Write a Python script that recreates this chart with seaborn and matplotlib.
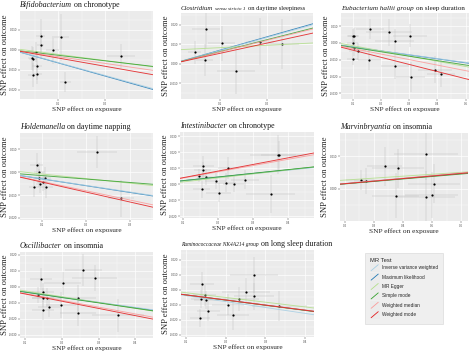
import matplotlib
matplotlib.use("Agg")
import matplotlib.pyplot as plt
import seaborn as sns
import pandas as pd
from matplotlib.offsetbox import TextArea, HPacker, AnchoredOffsetbox
from matplotlib.legend_handler import HandlerBase
from matplotlib.patches import Rectangle
from matplotlib.lines import Line2D
from matplotlib.ticker import AutoMinorLocator, FormatStrFormatter

methods = ["Inverse variance weighted", "Maximum likelihood", "MR Egger",
           "Simple mode", "Weighted median", "Weighted mode"]
colors = ["#A6CEE3", "#1F78B4", "#B2DF8A", "#33A02C", "#FB9A99", "#E31A1C"]
draw_order = [1, 0, 2, 3, 4, 5]

# Bifidobacterium on chronotype
bifido_bx = [0.062, 0.106, 0.062, 0.088, 0.052, 0.044, 0.046, 0.054, 0.234, 0.045, 0.055, 0.115]
bifido_by = [0.0067, 0.0062, 0.0022, 0.0, -0.0012, -0.0042, -0.0047, -0.0080, -0.0033, -0.0125, -0.0123, -0.0163]
bifido_sx = [0.010, 0.016, 0.008, 0.014, 0.007, 0.009, 0.008, 0.010, 0.030, 0.009, 0.010, 0.012]
bifido_sy = [0.009, 0.012, 0.006, 0.007, 0.005, 0.006, 0.006, 0.007, 0.006, 0.006, 0.005, 0.005]
bifido_slope = [-0.0645, -0.0660, -0.0310, -0.0276, -0.0342, -0.0414]
bifido_egger_int = 0.0008

# Clostridium sensu stricto 1 on daytime sleepiness
clost_bx = [0.047, 0.071, 0.068, 0.104, 0.135, 0.185, 0.232]
clost_by = [0.0058, 0.0178, 0.0019, 0.0104, -0.0036, 0.0113, 0.0101]
clost_sx = [0.014, 0.030, 0.018, 0.028, 0.040, 0.030, 0.035]
clost_sy = [0.006, 0.010, 0.008, 0.009, 0.012, 0.012, 0.013]
clost_slope = [0.0673, 0.0690, 0.0122, 0.0616, 0.0600, 0.0529]
clost_egger_int = 0.0070

# Eubacterium hallii group on sleep duration
eubac_bx = [0.161, 0.229, 0.100, 0.104, 0.304, 0.249, 0.100, 0.104, 0.118, 0.100, 0.159, 0.249, 0.305, 0.392, 0.414]
eubac_by = [0.0083, 0.0063, 0.0040, 0.0040, 0.0044, 0.0014, 0.0, -0.0030, -0.0050, -0.0093, -0.0103, -0.0135, -0.0204, -0.0158, -0.0182]
eubac_sx = [0.05, 0.08, 0.02, 0.02, 0.06, 0.07, 0.02, 0.02, 0.03, 0.02, 0.04, 0.05, 0.05, 0.06, 0.05]
eubac_sy = [0.006, 0.008, 0.004, 0.005, 0.007, 0.007, 0.004, 0.005, 0.005, 0.004, 0.006, 0.008, 0.009, 0.008, 0.008]
eubac_slope = [-0.0232, -0.0236, -0.0310, -0.0262, -0.0329, -0.0425]
eubac_egger_int = 0.0015

# Holdemanella on daytime napping
holde_bx = [0.225, 0.088, 0.094, 0.107, 0.102, 0.096, 0.082, 0.110, 0.094, 0.280]
holde_by = [0.0086, 0.0032, 0.0, -0.0026, -0.0041, -0.0053, -0.0067, -0.0063, -0.0026, -0.0114]
holde_sx = [0.045, 0.015, 0.012, 0.014, 0.012, 0.010, 0.012, 0.015, 0.010, 0.030]
holde_sy = [0.007, 0.005, 0.004, 0.005, 0.004, 0.004, 0.004, 0.005, 0.004, 0.008]
holde_slope = [-0.0289, -0.0295, -0.0200, -0.0150, -0.0405, -0.0434]
holde_egger_int = 0.0012

# Intestinibacter on chronotype
intes_bx = [0.373, 0.375, 0.159, 0.157, 0.230, 0.147, 0.167, 0.194, 0.223, 0.246, 0.279, 0.154, 0.203, 0.352]
intes_by = [0.0186, 0.0182, 0.0115, 0.0089, 0.0101, 0.0055, 0.0044, 0.0018, 0.0010, 0.0004, 0.0028, -0.0032, -0.0051, -0.0061]
intes_sx = [0.08, 0.05, 0.03, 0.025, 0.03, 0.02, 0.025, 0.03, 0.03, 0.03, 0.04, 0.025, 0.035, 0.07]
intes_sy = [0.012, 0.009, 0.006, 0.005, 0.007, 0.004, 0.005, 0.005, 0.006, 0.005, 0.006, 0.005, 0.006, 0.012]
intes_slope = [0.0221, 0.0226, 0.0250, 0.0230, 0.0390, 0.0413]
intes_egger_int = -0.0010

# Marvinbryantia on insomnia
marvi_bx = [0.480, 0.337, 0.383, 0.255, 0.272, 0.506, 0.375, 0.478, 0.498]
marvi_by = [0.0107, 0.0069, 0.0064, 0.0027, 0.0024, 0.0015, -0.0021, -0.0026, -0.0019]
marvi_sx = [0.11, 0.06, 0.09, 0.05, 0.04, 0.09, 0.08, 0.10, 0.09]
marvi_sy = [0.008, 0.006, 0.006, 0.003, 0.004, 0.006, 0.007, 0.008, 0.007]
marvi_slope = [0.0078, 0.0080, 0.0060, 0.0076, 0.0082, 0.0079]
marvi_egger_int = 0.0015

# Oscillibacter on insomnia
oscil_bx = [0.259, 0.289, 0.143, 0.203, 0.150, 0.136, 0.150, 0.159, 0.244, 0.198, 0.166, 0.150, 0.244, 0.353]
oscil_by = [0.0103, 0.0056, 0.0047, 0.0021, -0.0035, -0.0051, -0.0068, -0.0068, -0.0068, -0.0113, -0.0128, -0.0146, -0.0165, -0.0179]
oscil_sx = [0.05, 0.06, 0.03, 0.05, 0.03, 0.02, 0.03, 0.04, 0.05, 0.04, 0.03, 0.03, 0.05, 0.07]
oscil_sy = [0.010, 0.008, 0.007, 0.007, 0.006, 0.005, 0.006, 0.006, 0.008, 0.008, 0.006, 0.006, 0.008, 0.010]
oscil_slope = [-0.0321, -0.0328, -0.0360, -0.0335, -0.0423, -0.0450]
oscil_egger_int = 0.0010

# Ruminococcaceae NK4A214 group on long sleep duration
rumin_bx = [0.271, 0.140, 0.251, 0.146, 0.137, 0.150, 0.271, 0.234, 0.205, 0.156, 0.218, 0.134, 0.335]
rumin_by = [0.0100, 0.0038, -0.0013, -0.0036, -0.0062, -0.0071, -0.0044, -0.0062, -0.0100, -0.0140, -0.0171, -0.0189, -0.0111]
rumin_sx = [0.06, 0.03, 0.06, 0.03, 0.025, 0.03, 0.05, 0.05, 0.04, 0.03, 0.04, 0.025, 0.07]
rumin_sy = [0.012, 0.008, 0.009, 0.007, 0.006, 0.006, 0.009, 0.008, 0.007, 0.007, 0.010, 0.006, 0.010]
rumin_slope = [-0.0394, -0.0340, -0.0316, -0.0345, -0.0338, -0.0341]
rumin_egger_int = 0.0012

sns.set_theme(style="darkgrid", rc={"axes.facecolor": "#EBEBEB", "grid.color": "white"})
plt.rcParams["font.family"] = ["Liberation Serif", "DejaVu Serif"]

W, H = 474, 354
fig = plt.figure(figsize=(W / 100, H / 100), dpi=100)
fig.patch.set_facecolor("white")

I, N = "italic", "normal"
panels = [
    dict(box=(20, 11, 153, 99), bx=bifido_bx, by=bifido_by, sx=bifido_sx, sy=bifido_sy,
         slope=bifido_slope, eint=bifido_egger_int,
         xlim=(0.0179, 0.302), ylim=(-0.0247, 0.0195), xt=[0.1, 0.2], yt=[-0.02, -0.01, 0, 0.01],
         title=[("Bifidobacterium", I, 5.8), ("on chronotype", N, 5.8)]),
    dict(box=(181, 13, 313, 99), bx=clost_bx, by=clost_by, sx=clost_sx, sy=clost_sy,
         slope=clost_slope, eint=clost_egger_int,
         xlim=(0.0183, 0.297), ylim=(-0.0181, 0.026), xt=[0.1, 0.2], yt=[-0.01, 0, 0.01, 0.02],
         title=[("Clostridium", I, 4.9), ("sensu stricto 1", I, 3.8), ("on daytime sleepiness", N, 4.7)]),
    dict(box=(341, 13, 469, 99), bx=eubac_bx, by=eubac_by, sx=eubac_sx, sy=eubac_sy,
         slope=eubac_slope, eint=eubac_egger_int,
         xlim=(0.0588, 0.512), ylim=(-0.0333, 0.0178), xt=[0.1, 0.2, 0.3, 0.4, 0.5],
         yt=[-0.03, -0.02, -0.01, 0, 0.01],
         title=[("Eubacterium hallii group", I, 5.1), ("on sleep duration", N, 5.1)]),
    dict(box=(20, 133, 153, 220), bx=holde_bx, by=holde_by, sx=holde_sx, sy=holde_sy,
         slope=holde_slope, eint=holde_egger_int,
         xlim=(0.0502, 0.353), ylim=(-0.0209, 0.0171), xt=[0.1, 0.2, 0.3], yt=[-0.02, -0.01, 0, 0.01],
         title=[("Holdemanella", I, 5.8), ("on daytime napping", N, 5.8)]),
    dict(box=(180, 132, 314, 218), bx=intes_bx, by=intes_by, sx=intes_sx, sy=intes_sy,
         slope=intes_slope, eint=intes_egger_int,
         xlim=(0.0924, 0.475), ylim=(-0.021, 0.0327), xt=[0.1, 0.2, 0.3, 0.4],
         yt=[-0.02, -0.01, 0, 0.01, 0.02, 0.03],
         title=[("Intestinibacter", I, 5.8), ("on chronotype", N, 5.8)]),
    dict(box=(340, 133, 468, 221), bx=marvi_bx, by=marvi_by, sx=marvi_sx, sy=marvi_sy,
         slope=marvi_slope, eint=marvi_egger_int,
         xlim=(0.184, 0.623), ylim=(-0.0099, 0.0172), xt=[0.2, 0.3, 0.4, 0.5, 0.6], yt=[0, 0.01],
         title=[("Marvinbryantia", I, 5.8), ("on insomnia", N, 5.8)]),
    dict(box=(20, 252, 153, 338), bx=oscil_bx, by=oscil_by, sx=oscil_sx, sy=oscil_sy,
         slope=oscil_slope, eint=oscil_egger_int,
         xlim=(0.0864, 0.448), ylim=(-0.0319, 0.0216), xt=[0.1, 0.2, 0.3, 0.4],
         yt=[-0.03, -0.02, -0.01, 0, 0.01, 0.02],
         title=[("Oscillibacter", I, 5.8), ("on insomnia", N, 5.8)]),
    dict(box=(181, 250, 314, 337), bx=rumin_bx, by=rumin_by, sx=rumin_sx, sy=rumin_sy,
         slope=rumin_slope, eint=rumin_egger_int,
         xlim=(0.0866, 0.4227), ylim=(-0.0316, 0.0267), xt=[0.1, 0.2, 0.3, 0.4],
         yt=[-0.03, -0.02, -0.01, 0, 0.01, 0.02],
         title=[("Ruminococcaceae NK4A214 group", I, 4.0), ("on long sleep duration", N, 5.8)]),
]

for p in panels:
    l, t, r, b = p["box"]
    ax = fig.add_axes([l / W, 1 - b / H, (r - l) / W, (b - t) / H])
    df = pd.DataFrame({"bx": p["bx"], "by": p["by"], "sx": p["sx"], "sy": p["sy"]})
    ax.errorbar(df.bx, df.by, xerr=df.sx, yerr=df.sy, fmt="none", ecolor="#BEBEBE",
                elinewidth=0.35, capsize=0, zorder=2)
    sns.scatterplot(data=df, x="bx", y="by", ax=ax, color="black", s=2.5, linewidth=0, zorder=3)
    for i in draw_order:
        a = p["eint"] if methods[i] == "MR Egger" else 0.0
        ax.axline((0, a), slope=p["slope"][i], color=colors[i], lw=0.65, alpha=0.85, zorder=4)
    ax.set_xlim(*p["xlim"])
    ax.set_ylim(*p["ylim"])
    ax.set_xticks(p["xt"])
    ax.set_yticks(p["yt"])
    ax.xaxis.set_major_formatter(FormatStrFormatter("%.1f"))
    ax.yaxis.set_major_formatter(FormatStrFormatter("%.3f"))
    ax.xaxis.set_minor_locator(AutoMinorLocator(2))
    ax.yaxis.set_minor_locator(AutoMinorLocator(2))
    ax.grid(which="major", color="white", lw=0.5)
    ax.grid(which="minor", color="white", lw=0.25)
    ax.tick_params(which="major", labelsize=2.2, labelcolor="#4D4D4D", length=1.2, width=0.3,
                   color="#333333", pad=0.8, bottom=True, left=True)
    ax.tick_params(which="minor", length=0)
    for tl in ax.get_xticklabels() + ax.get_yticklabels():
        tl.set_fontfamily("Liberation Sans")
    for s in ax.spines.values():
        s.set_visible(False)
    ax.set_xlabel("SNP effect on exposure", fontsize=5.3)
    ax.set_ylabel("SNP effect on outcome", fontsize=6.2)
    ax.xaxis.set_label_coords(0.5, -0.08)
    ax.yaxis.set_label_coords(-0.085, 0.5)

    parts = [TextArea(txt, textprops=dict(fontstyle=st, fontsize=fs, color="#1A1A1A",
                                          family="Liberation Serif"))
             for txt, st, fs in p["title"]]
    pack = HPacker(children=parts, align="baseline", pad=0, sep=1.4)
    ab = AnchoredOffsetbox(loc="lower left", child=pack, pad=0, borderpad=0, frameon=False,
                           bbox_to_anchor=(0, 1.02), bbox_transform=ax.transAxes)
    ax.add_artist(ab)


class KeyHandler(HandlerBase):
    def create_artists(self, legend, orig_handle, xdescent, ydescent, width, height, fontsize, trans):
        x0, y0 = -xdescent, -ydescent
        bg = Rectangle((x0, y0), width, height, facecolor="#EBEBEB", edgecolor="none", transform=trans)
        ln = Line2D([x0 + 1, x0 + width - 1], [y0 + 1, y0 + height - 1],
                    color=orig_handle.get_color(), lw=0.6, transform=trans)
        return [bg, ln]


handles = [Line2D([], [], color=c) for c in colors]
leg = fig.legend(handles, methods, handler_map={Line2D: KeyHandler()},
                 loc="upper left", bbox_to_anchor=(365 / W, 1 - 253 / H), borderaxespad=0,
                 title="MR Test", alignment="left", frameon=True, fancybox=False,
                 prop=dict(family="Liberation Sans", size=3.4),
                 handlelength=2.1, handleheight=2.5, labelspacing=0.12,
                 handletextpad=0.6, borderpad=1.0)
leg.get_title().set_fontfamily("Liberation Sans")
leg.get_title().set_fontsize(4.2)
leg.get_frame().set_edgecolor("#CCCCCC")
leg.get_frame().set_linewidth(0.4)

fig.savefig("out.png", dpi=100, facecolor="white")
